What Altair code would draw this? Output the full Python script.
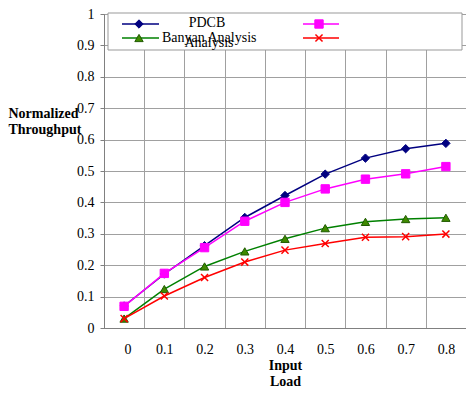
import altair as alt
import pandas as pd

# ---- data ----
loads = [0, 0.1, 0.2, 0.3, 0.4, 0.5, 0.6, 0.7, 0.8]
pdcb_analysis = [0.070, 0.172, 0.262, 0.352, 0.422, 0.490, 0.541, 0.571, 0.588]
pdcb_sim = [0.069, 0.174, 0.256, 0.340, 0.400, 0.443, 0.474, 0.491, 0.514]
banyan_analysis = [0.030, 0.124, 0.196, 0.244, 0.284, 0.318, 0.338, 0.347, 0.351]
banyan_sim = [0.030, 0.102, 0.161, 0.210, 0.248, 0.269, 0.289, 0.291, 0.299]
series_names = ["PDCB Analysis", "PDCB Simulation", "Banyan Analysis", "Banyan Simulation"]
legend_texts = ["PDCB", "Banyan Analysis", "Analysis"]
y_ticks = [0, 0.1, 0.2, 0.3, 0.4, 0.5, 0.6, 0.7, 0.8, 0.9, 1.0]
x_bounds = [-0.05, 0.05, 0.15, 0.25, 0.35, 0.45, 0.55, 0.65, 0.75]

W, H = 362, 314
SERIF = "Liberation Serif"
GRID = "#a0a0a0"
AXIS = "#808080"

values = [pdcb_analysis, pdcb_sim, banyan_analysis, banyan_sim]
styles = [
    dict(line="#000080", shape="diamond", fill="#000080", stroke="#000080", size=70, filled=True),
    dict(line="#ff00ff", shape="square", fill="#ff00ff", stroke="#ff00ff", size=70, filled=True),
    dict(line="#008000", shape="triangle-up", fill="#3f8a00", stroke="#1f5a00", size=70, filled=True),
    dict(line="#ff0000", shape="M-1,-1L1,1M-1,1L1,-1", fill="none", stroke="#ff0000", size=50, filled=False),
]

x_scale = alt.Scale(domain=[-0.05, 0.85], nice=False, zero=False)
y_scale = alt.Scale(domain=[0, 1], nice=False)

x_axis = alt.Axis(
    values=x_bounds,
    labelExpr="toString(round((datum.value + 0.05) * 10) / 10)",
    labelOffset=W / 9 / 2,
    ticks=False,
    labelPadding=14,
    labelFont=SERIF, labelFontSize=14, labelColor="black",
    grid=True, gridColor=GRID, domainColor=AXIS,
    title=["Input", "Load"], titleFont=SERIF, titleFontSize=14, titleFontWeight="bold",
    titleY=30, titleBaseline="top", titleLineHeight=16, titleColor="black",
)
y_axis = alt.Axis(
    values=y_ticks, format=".1~f",
    tickSize=4, tickColor=AXIS, labelPadding=6,
    labelFont=SERIF, labelFontSize=14, labelColor="black",
    grid=True, gridColor=GRID, domainColor=AXIS,
    title=["Normalized", "Throughput"], titleFont=SERIF, titleFontSize=14, titleFontWeight="bold",
    titleAngle=0, titleAlign="left", titleBaseline="top", titleX=-96, titleY=92,
    titleLineHeight=16, titleColor="black",
)

X = alt.X("load:Q", scale=x_scale, axis=x_axis)
Y = alt.Y("tp:Q", scale=y_scale, axis=y_axis)

layers = []
for name, vals, st in zip(series_names, values, styles):
    df = pd.DataFrame({"load": loads, "tp": vals, "series": name})
    layers.append(alt.Chart(df).mark_line(color=st["line"], strokeWidth=1.5).encode(x=X, y=Y))
for name, vals, st in zip(series_names, values, styles):
    df = pd.DataFrame({"load": loads, "tp": vals, "series": name})
    layers.append(alt.Chart(df).mark_point(
        shape=st["shape"], filled=st["filled"], fill=st["fill"], stroke=st["stroke"],
        size=st["size"], strokeWidth=1.5 if not st["filled"] else 1, opacity=1,
    ).encode(x=X, y=Y))

one = pd.DataFrame({"a": [0]})
# legend box
layers.append(alt.Chart(one).mark_rect(fill="white", stroke="#999999", strokeWidth=1).encode(
    x=alt.value(4), x2=alt.value(358), y=alt.value(-1), y2=alt.value(36)))
legend_pos = [(18, 55, 35, 10), (199, 235, 215, 10), (18, 55, 35, 24), (199, 235, 215, 24)]
for st, (x1, x2, xm, yy) in zip(styles, legend_pos):
    layers.append(alt.Chart(one).mark_rule(color=st["line"], strokeWidth=1.5).encode(
        x=alt.value(x1), x2=alt.value(x2), y=alt.value(yy)))
    layers.append(alt.Chart(one).mark_point(
        shape=st["shape"], filled=st["filled"], fill=st["fill"], stroke=st["stroke"],
        size=st["size"], strokeWidth=1.5 if not st["filled"] else 1, opacity=1,
    ).encode(x=alt.value(xm), y=alt.value(yy)))
text_pos = [(103, 9, "center"), (58, 24, "left"), (105, 29, "center")]
for t, (tx, ty, al) in zip(legend_texts, text_pos):
    layers.append(alt.Chart(one).mark_text(text=t, font=SERIF, fontSize=14, align=al,
                                           baseline="middle", color="black").encode(
        x=alt.value(tx), y=alt.value(ty)))

chart = alt.layer(*layers).properties(
    width=W, height=H,
    autosize=alt.AutoSizeParams(type="none"),
    padding={"left": 96, "top": 6, "right": 0, "bottom": 60},
).configure(font=SERIF).configure_view(stroke=AXIS, strokeWidth=1).configure_axis(
    domainWidth=1, gridWidth=1, labelFont=SERIF, labelFontSize=14, titleFont=SERIF
)

chart.save("out.html", embed_options={"renderer": "svg", "actions": False})
